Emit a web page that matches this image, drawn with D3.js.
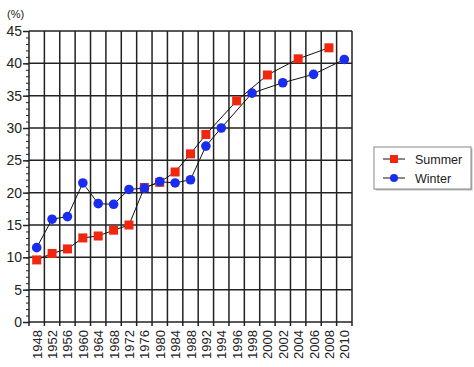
<!DOCTYPE html>
<html>
<head>
<meta charset="utf-8">
<script src="https://cdn.jsdelivr.net/npm/d3@7"></script>
<style>
  body { margin: 0; background: #fff; }
  svg { display: block; font-family: "Liberation Sans", Arial, sans-serif; }
</style>
</head>
<body>
<div id="chart"></div>
<script>
// categories on the x axis (one band each)
const years = ['1948','1952','1956','1960','1964','1968','1972','1976','1980','1984','1988','1992',
  '1994','1996','1998','2000','2002','2004','2006','2008','2010'];

// summer games
const summerYears = ['1948','1952','1956','1960','1964','1968','1972','1976','1980','1984','1988','1992',
  '1996','2000','2004','2008'];
const summerValues = [9.6, 10.6, 11.3, 13.0, 13.3, 14.2, 15.0, 20.8, 21.6, 23.2, 26.0, 29.0,
  34.2, 38.2, 40.7, 42.4];

// winter games
const winterYears = ['1948','1952','1956','1960','1964','1968','1972','1976','1980','1984','1988','1992',
  '1994','1998','2002','2006','2010'];
const winterValues = [11.5, 15.9, 16.3, 21.5, 18.3, 18.2, 20.5, 20.7, 21.7, 21.5, 22.0, 27.2,
  30.0, 35.4, 37.0, 38.3, 40.6];

const yTicks = [0, 5, 10, 15, 20, 25, 30, 35, 40, 45];

const W = 474, H = 367;
const margin = { top: 31, right: 122, bottom: 45, left: 29 };
const width = W - margin.left - margin.right;
const height = H - margin.top - margin.bottom;

const svg = d3.select('#chart').append('svg')
  .attr('width', W).attr('height', H);

const g = svg.append('g')
  .attr('transform', `translate(${margin.left},${margin.top})`);

const xScale = d3.scaleBand().domain(years).range([0, width]).padding(0);
const yScale = d3.scaleLinear().domain([0, 45]).range([height, 0]);

const gridColor = '#222';

// horizontal grid
g.selectAll('.hgrid').data(yTicks).enter().append('line')
  .attr('x1', 0).attr('x2', width)
  .attr('y1', d => yScale(d)).attr('y2', d => yScale(d))
  .attr('stroke', gridColor).attr('stroke-width', 1.5);

// vertical grid at band edges
const edges = years.map(y => xScale(y)).concat([width]);
g.selectAll('.vgrid').data(edges).enter().append('line')
  .attr('x1', d => d).attr('x2', d => d)
  .attr('y1', 0).attr('y2', height)
  .attr('stroke', gridColor).attr('stroke-width', 1.5);

// y axis
const yAxis = g.append('g')
  .call(d3.axisLeft(yScale).tickValues(yTicks).tickSize(6).tickPadding(1));
yAxis.select('.domain').remove();
yAxis.selectAll('line').attr('stroke', gridColor).attr('stroke-width', 1.5);
yAxis.selectAll('text').attr('font-size', 14).attr('fill', '#222')
  .attr('font-family', '"Liberation Sans", Arial, sans-serif');

// minor ticks on y
g.append('g')
  .call(d3.axisLeft(yScale).tickValues(d3.range(0, 46, 1)).tickSize(3).tickFormat(''))
  .call(a => a.select('.domain').remove())
  .selectAll('line').attr('stroke', gridColor).attr('stroke-width', 1);

// x ticks at band edges
g.selectAll('.xtick').data(edges).enter().append('line')
  .attr('x1', d => d).attr('x2', d => d)
  .attr('y1', height).attr('y2', height + 4)
  .attr('stroke', gridColor).attr('stroke-width', 1.5);

// x labels (rotated)
g.selectAll('.xlab').data(years).enter().append('text')
  .attr('transform', d => `translate(${xScale(d) + xScale.bandwidth() / 2 + 5},${height + 8}) rotate(-90)`)
  .attr('text-anchor', 'end')
  .attr('font-size', 13)
  .attr('fill', '#222')
  .text(d => d);

// y unit
svg.append('text')
  .attr('x', 7).attr('y', 18)
  .attr('font-size', 11).attr('fill', '#222')
  .text('(%)');

const cx = d => xScale(d) + xScale.bandwidth() / 2;

const summerData = summerYears.map((y, i) => ({ year: y, value: summerValues[i] }));
const winterData = winterYears.map((y, i) => ({ year: y, value: winterValues[i] }));

const line = d3.line().x(d => cx(d.year)).y(d => yScale(d.value));

g.append('path').datum(summerData)
  .attr('fill', 'none').attr('stroke', '#111').attr('stroke-width', 1).attr('d', line);
g.append('path').datum(winterData)
  .attr('fill', 'none').attr('stroke', '#111').attr('stroke-width', 1).attr('d', line);

const red = '#f0260f', blue = '#1a2cf0';
const sq = 9;

g.selectAll('.sum').data(summerData).enter().append('rect')
  .attr('x', d => cx(d.year) - sq / 2).attr('y', d => yScale(d.value) - sq / 2)
  .attr('width', sq).attr('height', sq).attr('fill', red);

g.selectAll('.win').data(winterData).enter().append('circle')
  .attr('cx', d => cx(d.year)).attr('cy', d => yScale(d.value))
  .attr('r', 4.8).attr('fill', blue);

// legend
const lg = svg.append('g').attr('transform', 'translate(374,147)');
lg.append('rect').attr('x', 1.5).attr('y', 1.5).attr('width', 97).attr('height', 42)
  .attr('fill', '#bbb');
lg.append('rect').attr('width', 97).attr('height', 42)
  .attr('fill', '#fff').attr('stroke', '#888').attr('stroke-width', 1);
const entries = [
  { name: 'Summer', color: red, shape: 'rect', y: 12 },
  { name: 'Winter', color: blue, shape: 'circle', y: 31 }
];
entries.forEach(e => {
  lg.append('line').attr('x1', 9).attr('x2', 31).attr('y1', e.y).attr('y2', e.y)
    .attr('stroke', '#111').attr('stroke-width', 1);
  if (e.shape === 'rect') {
    lg.append('rect').attr('x', 20 - 4).attr('y', e.y - 4).attr('width', 8).attr('height', 8)
      .attr('fill', e.color);
  } else {
    lg.append('circle').attr('cx', 20).attr('cy', e.y).attr('r', 4).attr('fill', e.color);
  }
  lg.append('text').attr('x', 41).attr('y', e.y + 4.5)
    .attr('font-size', 12.5).attr('fill', '#222').text(e.name);
});
</script>
</body>
</html>
